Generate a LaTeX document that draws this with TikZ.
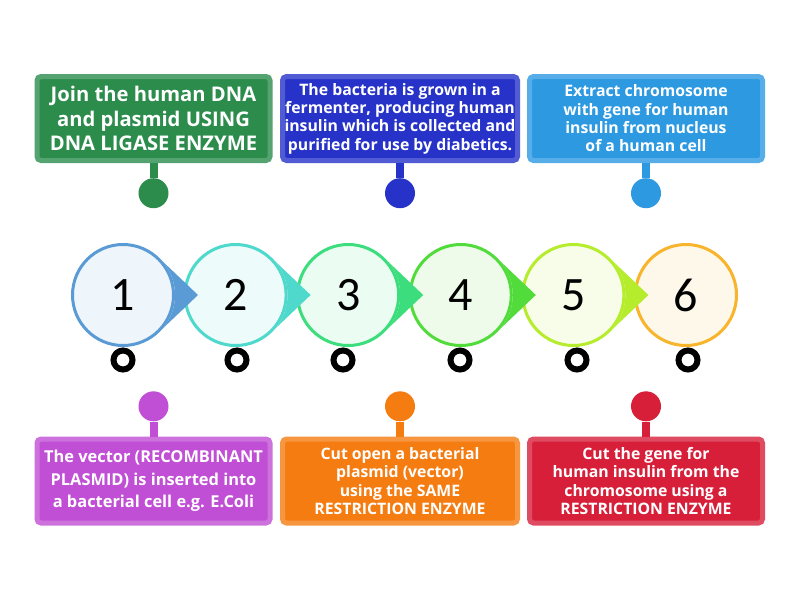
\documentclass[tikz,border=0pt]{standalone}
\usepackage{fontspec}
\setmainfont{Open Sans}
\newfontfamily\numfont{Carlito}
\usetikzlibrary{positioning}
\definecolor{dgreen}{HTML}{2B8C4C}
\definecolor{dblue}{HTML}{2632C8}
\definecolor{lblue}{HTML}{2C99E1}
\definecolor{dpurple}{HTML}{C04FD5}
\definecolor{dorange}{HTML}{F57C10}
\definecolor{dred}{HTML}{D71F3A}
\definecolor{sone}{HTML}{5A9BD5}
\definecolor{stwo}{HTML}{4FD8CC}
\definecolor{sthree}{HTML}{3CDD7C}
\definecolor{sfour}{HTML}{52DC3C}
\definecolor{sfive}{HTML}{B5EC2C}
\definecolor{ssix}{HTML}{F8B52C}

\begin{document}
\begin{tikzpicture}[x=1pt, y=-1pt,
    box/.style={rounded corners=4pt, fill=#1, draw=#1!80!white, line width=5pt,
        minimum width=233pt, minimum height=84pt, inner sep=0pt, align=center,
        text=white, font=\bfseries\fontsize{15.8}{18.3}\selectfont},
    dot/.style={circle, fill=#1, minimum size=30pt, inner sep=0pt},
    stem/.style={line width=8pt, draw=#1},
    num/.style={circle, draw=#1, fill=#1!10!white, line width=3pt, minimum size=101pt,
        inner sep=0pt, font=\numfont\fontsize{48}{48}\selectfont},
    ring/.style={circle, draw=black, line width=6pt, minimum size=19pt, inner sep=0pt}]
  \path[fill=white] (0,0) rectangle (800,600);

  \node[box=dgreen, font=\bfseries\fontsize{20.2}{24.5}\selectfont] (b1) at (153.5,118.5)
        {Join the human DNA\\and plasmid USING\\DNA LIGASE ENZYME};
  \node[box=dblue, minimum width=235pt] (b2) at (400,118.5)
        {The bacteria is grown in a\\fermenter, producing human\\insulin which is collected and\\purified for use by diabetics.};
  \node[box=lblue] (b3) at (646,118.5)
        {Extract chromosome\\with gene for human\\insulin from nucleus\\of a human cell};
  \node[box=dpurple, font=\bfseries\fontsize{16.4}{22.5}\selectfont] (b4) at (153.5,481)
        {The vector (RECOMBINANT\\PLASMID) is inserted into\\a bacterial cell e.g. E.Coli};
  \node[box=dorange, minimum width=235pt] (b5) at (400,481)
        {Cut open a bacterial\\plasmid (vector)\\using the SAME\\RESTRICTION ENZYME};
  \node[box=dred] (b6) at (646,481)
        {Cut the gene for\\human insulin from the\\chromosome using a\\RESTRICTION ENZYME};

  \node[dot=dgreen, below=15pt of b1] (d1) {};
  \node[dot=dblue, below=15pt of b2] (d2) {};
  \node[dot=lblue, below=15pt of b3] (d3) {};
  \node[dot=dpurple, above=15pt of b4] (d4) {};
  \node[dot=dorange, above=15pt of b5] (d5) {};
  \node[dot=dred, above=15pt of b6] (d6) {};
  \draw[stem=dgreen] (b1) -- (d1);
  \draw[stem=dblue] (b2) -- (d2);
  \draw[stem=lblue] (b3) -- (d3);
  \draw[stem=dpurple] (b4) -- (d4);
  \draw[stem=dorange] (b5) -- (d5);
  \draw[stem=dred] (b6) -- (d6);

  \node[num=sone] (c1) at (123,295) {1};
  \node[num=stwo, right=8.6pt of c1] (c2) {2};
  \node[num=sthree, right=8.6pt of c2] (c3) {3};
  \node[num=sfour, right=8.6pt of c3] (c4) {4};
  \node[num=sfive, right=8.6pt of c4] (c5) {5};
  \node[num=ssix, right=8.6pt of c5] (c6) {6};
  \fill[sone] (c1.-40) -- ([xshift=23pt]c1.east) -- (c1.40) arc[start angle=40, end angle=-40, radius=52pt] -- cycle;
  \fill[stwo] (c2.-40) -- ([xshift=23pt]c2.east) -- (c2.40) arc[start angle=40, end angle=-40, radius=52pt] -- cycle;
  \fill[sthree] (c3.-40) -- ([xshift=23pt]c3.east) -- (c3.40) arc[start angle=40, end angle=-40, radius=52pt] -- cycle;
  \fill[sfour] (c4.-40) -- ([xshift=23pt]c4.east) -- (c4.40) arc[start angle=40, end angle=-40, radius=52pt] -- cycle;
  \fill[sfive] (c5.-40) -- ([xshift=23pt]c5.east) -- (c5.40) arc[start angle=40, end angle=-40, radius=52pt] -- cycle;

  \node[ring] (r1) at (123,360) {};
  \node[ring] (r2) at (237,360) {};
  \node[ring] (r3) at (343,360) {};
  \node[ring] (r4) at (460,360) {};
  \node[ring] (r5) at (577,360) {};
  \node[ring] (r6) at (688,360) {};
\end{tikzpicture}
\end{document}
